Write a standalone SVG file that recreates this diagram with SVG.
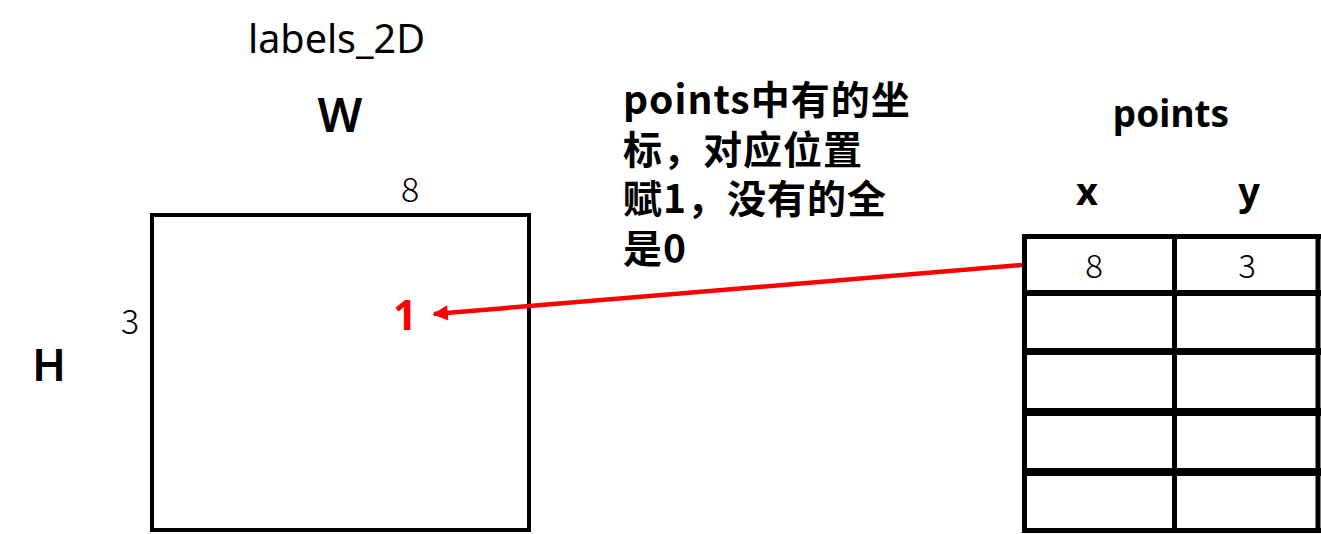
<svg xmlns="http://www.w3.org/2000/svg" width="1321" height="534" viewBox="0 0 1321 534">
<defs>
<style>
.t{font-family:"Noto Sans","Liberation Sans","Noto Sans CJK SC",sans-serif;fill:#000}
.cn{font-family:"Noto Sans CJK SC","Noto Sans",sans-serif;font-weight:bold;font-size:39px;letter-spacing:1px;fill:#000}
.thin{font-family:"Noto Sans CJK SC","Noto Sans",sans-serif;font-weight:300;fill:#000}
.box{fill:none;stroke:#000;stroke-width:4}
.grid{stroke:#000;fill:none}
</style>
<marker id="ah" viewBox="0 0 10 10" refX="9" refY="5" markerWidth="4.5" markerHeight="3.4" orient="auto" markerUnits="strokeWidth">
<path d="M0,0 L10,5 L0,10 z" fill="#ff0000"/>
</marker>
</defs>
<rect width="1321" height="534" fill="#fff"/>
<g id="labels2d">
<text class="t" x="248" y="53" font-size="39.5">labels_2D</text>
<text class="t" x="340" y="132" font-size="47" font-weight="600" text-anchor="middle">W</text>
<text class="t" x="49" y="381" font-size="45" font-weight="600" text-anchor="middle">H</text>
<text class="thin" x="410" y="202" font-size="34" text-anchor="middle">8</text>
<text class="thin" x="130" y="334" font-size="34" text-anchor="middle">3</text>
<rect class="box" x="152" y="215" width="377" height="315"/>
<text class="t" x="405" y="330" font-size="42" font-weight="bold" style="fill:#ff0000" text-anchor="middle">1</text>
</g>
<g id="note">
<text class="cn" x="623" y="114">points中有的坐</text>
<text class="cn" x="623" y="164">标，对应位置</text>
<text class="cn" x="623" y="213">赋1，没有的全</text>
<text class="cn" x="623" y="263">是0</text>
</g>
<g id="points">
<text class="t" x="1171" y="127" font-size="37" font-weight="bold" text-anchor="middle">points</text>
<text class="t" x="1087" y="205" font-size="38" font-weight="bold" text-anchor="middle">x</text>
<text class="t" x="1249" y="205" font-size="38" font-weight="bold" text-anchor="middle">y</text>
<g class="grid">
<line x1="1022" y1="236.5" x2="1321" y2="236.5" stroke-width="5"/>
<line x1="1022" y1="293" x2="1321" y2="293" stroke-width="6"/>
<line x1="1022" y1="351.5" x2="1321" y2="351.5" stroke-width="7"/>
<line x1="1022" y1="412" x2="1321" y2="412" stroke-width="8"/>
<line x1="1022" y1="472" x2="1321" y2="472" stroke-width="8"/>
<line x1="1022" y1="530.5" x2="1321" y2="530.5" stroke-width="5"/>
<line x1="1024.5" y1="234" x2="1024.5" y2="533" stroke-width="5"/>
<line x1="1174.5" y1="234" x2="1174.5" y2="533" stroke-width="5"/>
<line x1="1318" y1="234" x2="1318" y2="533" stroke-width="5"/>
</g>
<text class="thin" x="1094" y="278" font-size="33" text-anchor="middle">8</text>
<text class="thin" x="1247" y="278" font-size="33" text-anchor="middle">3</text>
</g>
<g id="connectors">
<line x1="1022" y1="265" x2="434" y2="314" stroke="#ff0000" stroke-width="4.5" marker-end="url(#ah)"/>
</g>
</svg>
